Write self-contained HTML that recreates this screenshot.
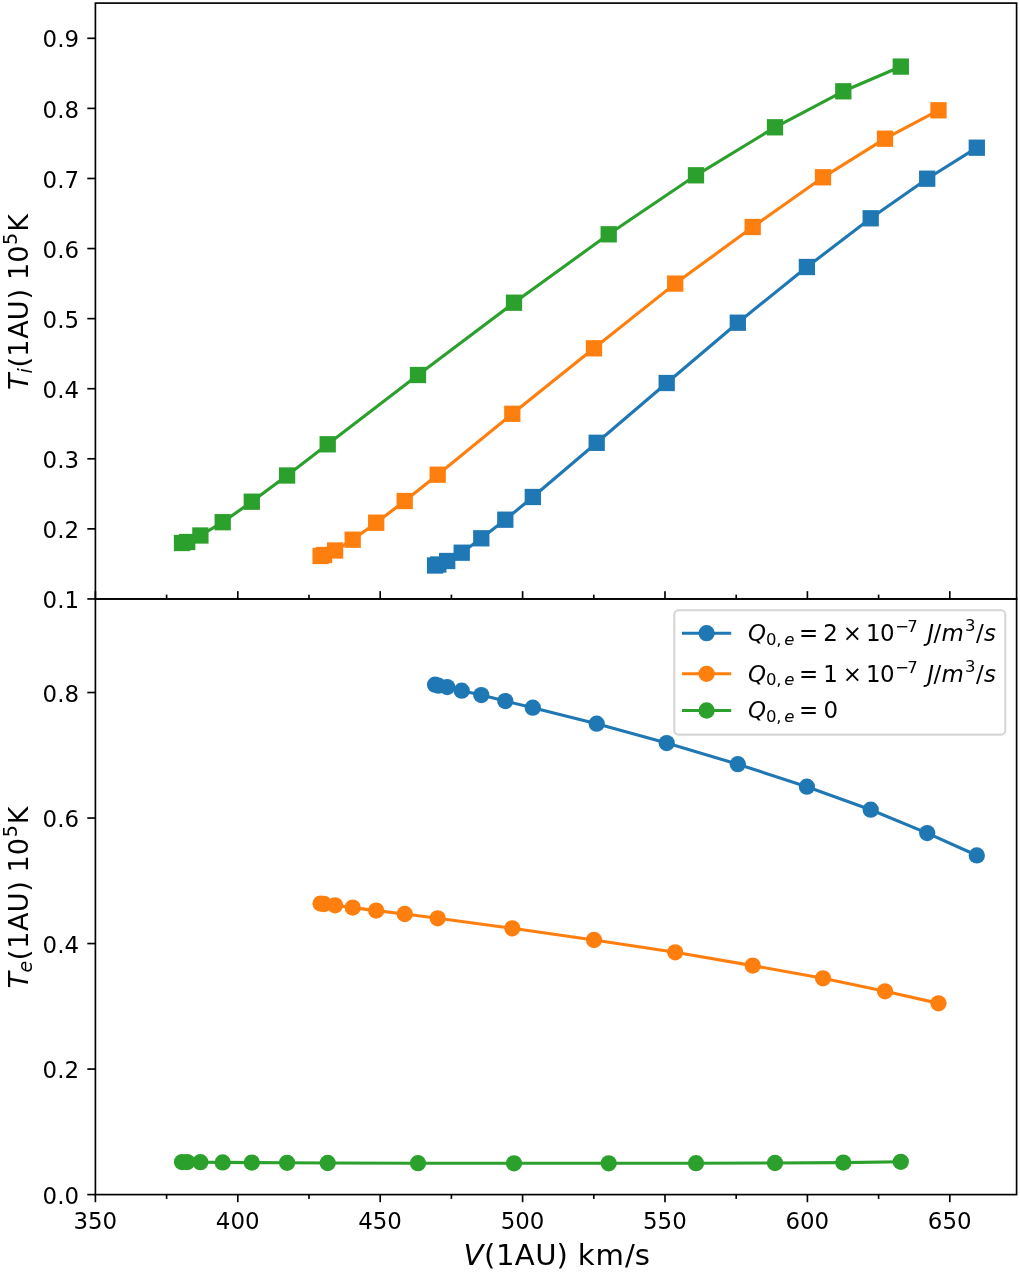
<!DOCTYPE html>
<html lang="en"><head><meta charset="utf-8"><title>T(1AU) vs V(1AU)</title>
<style>html,body{margin:0;padding:0;background:#fff}svg{display:block}text{font-family:"DejaVu Sans","Liberation Sans",sans-serif;fill:#000}.it{font-style:italic}</style></head><body>
<svg width="1020" height="1272" viewBox="0 0 1020 1272">
<rect width="1020" height="1272" fill="#fff"/>
<g id="top-panel">
<polyline points="435.1,565.5 438.3,564.5 447.2,561.0 461.7,552.7 481.3,538.3 505.3,519.7 532.8,497.0 596.7,442.8 666.7,383.0 737.8,322.7 806.9,267.0 870.7,218.3 927.2,178.7 976.8,147.7" fill="none" stroke="#1f77b4" stroke-width="3.125" stroke-linejoin="round" stroke-linecap="square"/>
<rect x="426.95" y="557.35" width="16.3" height="16.3" fill="#1f77b4"/>
<rect x="430.15" y="556.35" width="16.3" height="16.3" fill="#1f77b4"/>
<rect x="439.05" y="552.85" width="16.3" height="16.3" fill="#1f77b4"/>
<rect x="453.55" y="544.55" width="16.3" height="16.3" fill="#1f77b4"/>
<rect x="473.15" y="530.15" width="16.3" height="16.3" fill="#1f77b4"/>
<rect x="497.15" y="511.55" width="16.3" height="16.3" fill="#1f77b4"/>
<rect x="524.65" y="488.85" width="16.3" height="16.3" fill="#1f77b4"/>
<rect x="588.55" y="434.65" width="16.3" height="16.3" fill="#1f77b4"/>
<rect x="658.55" y="374.85" width="16.3" height="16.3" fill="#1f77b4"/>
<rect x="729.65" y="314.55" width="16.3" height="16.3" fill="#1f77b4"/>
<rect x="798.75" y="258.85" width="16.3" height="16.3" fill="#1f77b4"/>
<rect x="862.55" y="210.15" width="16.3" height="16.3" fill="#1f77b4"/>
<rect x="919.05" y="170.55" width="16.3" height="16.3" fill="#1f77b4"/>
<rect x="968.65" y="139.55" width="16.3" height="16.3" fill="#1f77b4"/>
<polyline points="320.6,556.0 324.0,555.0 335.1,550.5 352.7,539.7 376.2,522.7 404.7,501.0 437.7,474.7 512.3,413.8 594.0,348.3 675.2,283.6 752.7,227.0 823.0,177.3 885.0,138.7 938.5,110.3" fill="none" stroke="#ff7f0e" stroke-width="3.125" stroke-linejoin="round" stroke-linecap="square"/>
<rect x="312.45" y="547.85" width="16.3" height="16.3" fill="#ff7f0e"/>
<rect x="315.85" y="546.85" width="16.3" height="16.3" fill="#ff7f0e"/>
<rect x="326.95" y="542.35" width="16.3" height="16.3" fill="#ff7f0e"/>
<rect x="344.55" y="531.55" width="16.3" height="16.3" fill="#ff7f0e"/>
<rect x="368.05" y="514.55" width="16.3" height="16.3" fill="#ff7f0e"/>
<rect x="396.55" y="492.85" width="16.3" height="16.3" fill="#ff7f0e"/>
<rect x="429.55" y="466.55" width="16.3" height="16.3" fill="#ff7f0e"/>
<rect x="504.15" y="405.65" width="16.3" height="16.3" fill="#ff7f0e"/>
<rect x="585.85" y="340.15" width="16.3" height="16.3" fill="#ff7f0e"/>
<rect x="667.05" y="275.45" width="16.3" height="16.3" fill="#ff7f0e"/>
<rect x="744.55" y="218.85" width="16.3" height="16.3" fill="#ff7f0e"/>
<rect x="814.85" y="169.15" width="16.3" height="16.3" fill="#ff7f0e"/>
<rect x="876.85" y="130.55" width="16.3" height="16.3" fill="#ff7f0e"/>
<rect x="930.35" y="102.15" width="16.3" height="16.3" fill="#ff7f0e"/>
<polyline points="182.0,543.0 187.2,542.0 200.4,535.5 222.7,522.2 251.8,501.7 287.1,475.5 327.7,444.3 418.0,375.0 514.0,302.7 608.7,234.3 696.0,175.3 775.0,127.3 843.3,91.3 900.8,66.6" fill="none" stroke="#2ca02c" stroke-width="3.125" stroke-linejoin="round" stroke-linecap="square"/>
<rect x="173.85" y="534.85" width="16.3" height="16.3" fill="#2ca02c"/>
<rect x="179.05" y="533.85" width="16.3" height="16.3" fill="#2ca02c"/>
<rect x="192.25" y="527.35" width="16.3" height="16.3" fill="#2ca02c"/>
<rect x="214.55" y="514.05" width="16.3" height="16.3" fill="#2ca02c"/>
<rect x="243.65" y="493.55" width="16.3" height="16.3" fill="#2ca02c"/>
<rect x="278.95" y="467.35" width="16.3" height="16.3" fill="#2ca02c"/>
<rect x="319.55" y="436.15" width="16.3" height="16.3" fill="#2ca02c"/>
<rect x="409.85" y="366.85" width="16.3" height="16.3" fill="#2ca02c"/>
<rect x="505.85" y="294.55" width="16.3" height="16.3" fill="#2ca02c"/>
<rect x="600.55" y="226.15" width="16.3" height="16.3" fill="#2ca02c"/>
<rect x="687.85" y="167.15" width="16.3" height="16.3" fill="#2ca02c"/>
<rect x="766.85" y="119.15" width="16.3" height="16.3" fill="#2ca02c"/>
<rect x="835.15" y="83.15" width="16.3" height="16.3" fill="#2ca02c"/>
<rect x="892.65" y="58.45" width="16.3" height="16.3" fill="#2ca02c"/>
</g><g id="bottom-panel">
<polyline points="435.1,684.7 438.3,685.7 447.2,687.1 461.7,690.7 481.3,695.1 505.3,701.1 532.8,707.7 596.7,723.7 666.7,743.1 737.8,764.2 806.9,786.7 870.7,809.7 927.2,833.1 976.8,855.4" fill="none" stroke="#1f77b4" stroke-width="3.125" stroke-linejoin="round" stroke-linecap="square"/>
<circle cx="435.10" cy="684.70" r="8.15" fill="#1f77b4"/>
<circle cx="438.30" cy="685.70" r="8.15" fill="#1f77b4"/>
<circle cx="447.20" cy="687.10" r="8.15" fill="#1f77b4"/>
<circle cx="461.70" cy="690.70" r="8.15" fill="#1f77b4"/>
<circle cx="481.30" cy="695.10" r="8.15" fill="#1f77b4"/>
<circle cx="505.30" cy="701.10" r="8.15" fill="#1f77b4"/>
<circle cx="532.80" cy="707.70" r="8.15" fill="#1f77b4"/>
<circle cx="596.70" cy="723.70" r="8.15" fill="#1f77b4"/>
<circle cx="666.70" cy="743.10" r="8.15" fill="#1f77b4"/>
<circle cx="737.80" cy="764.20" r="8.15" fill="#1f77b4"/>
<circle cx="806.90" cy="786.70" r="8.15" fill="#1f77b4"/>
<circle cx="870.70" cy="809.70" r="8.15" fill="#1f77b4"/>
<circle cx="927.20" cy="833.10" r="8.15" fill="#1f77b4"/>
<circle cx="976.80" cy="855.40" r="8.15" fill="#1f77b4"/>
<polyline points="320.6,903.6 324.0,904.0 335.1,905.3 352.7,907.6 376.2,910.6 404.7,914.0 437.7,918.3 512.3,928.3 594.0,940.0 675.2,952.3 752.7,965.6 823.0,978.3 885.0,991.3 938.5,1003.3" fill="none" stroke="#ff7f0e" stroke-width="3.125" stroke-linejoin="round" stroke-linecap="square"/>
<circle cx="320.60" cy="903.60" r="8.15" fill="#ff7f0e"/>
<circle cx="324.00" cy="904.00" r="8.15" fill="#ff7f0e"/>
<circle cx="335.10" cy="905.30" r="8.15" fill="#ff7f0e"/>
<circle cx="352.70" cy="907.60" r="8.15" fill="#ff7f0e"/>
<circle cx="376.20" cy="910.60" r="8.15" fill="#ff7f0e"/>
<circle cx="404.70" cy="914.00" r="8.15" fill="#ff7f0e"/>
<circle cx="437.70" cy="918.30" r="8.15" fill="#ff7f0e"/>
<circle cx="512.30" cy="928.30" r="8.15" fill="#ff7f0e"/>
<circle cx="594.00" cy="940.00" r="8.15" fill="#ff7f0e"/>
<circle cx="675.20" cy="952.30" r="8.15" fill="#ff7f0e"/>
<circle cx="752.70" cy="965.60" r="8.15" fill="#ff7f0e"/>
<circle cx="823.00" cy="978.30" r="8.15" fill="#ff7f0e"/>
<circle cx="885.00" cy="991.30" r="8.15" fill="#ff7f0e"/>
<circle cx="938.50" cy="1003.30" r="8.15" fill="#ff7f0e"/>
<polyline points="182.0,1162.1 187.2,1162.1 200.4,1162.2 222.7,1162.4 251.8,1162.6 287.1,1162.8 327.7,1163.0 418.0,1163.2 514.0,1163.3 608.7,1163.3 696.0,1163.2 775.0,1163.0 843.3,1162.6 900.8,1161.8" fill="none" stroke="#2ca02c" stroke-width="3.125" stroke-linejoin="round" stroke-linecap="square"/>
<circle cx="182.00" cy="1162.10" r="8.15" fill="#2ca02c"/>
<circle cx="187.20" cy="1162.10" r="8.15" fill="#2ca02c"/>
<circle cx="200.40" cy="1162.20" r="8.15" fill="#2ca02c"/>
<circle cx="222.70" cy="1162.40" r="8.15" fill="#2ca02c"/>
<circle cx="251.80" cy="1162.60" r="8.15" fill="#2ca02c"/>
<circle cx="287.10" cy="1162.80" r="8.15" fill="#2ca02c"/>
<circle cx="327.70" cy="1163.00" r="8.15" fill="#2ca02c"/>
<circle cx="418.00" cy="1163.20" r="8.15" fill="#2ca02c"/>
<circle cx="514.00" cy="1163.30" r="8.15" fill="#2ca02c"/>
<circle cx="608.70" cy="1163.30" r="8.15" fill="#2ca02c"/>
<circle cx="696.00" cy="1163.20" r="8.15" fill="#2ca02c"/>
<circle cx="775.00" cy="1163.00" r="8.15" fill="#2ca02c"/>
<circle cx="843.30" cy="1162.60" r="8.15" fill="#2ca02c"/>
<circle cx="900.80" cy="1161.80" r="8.15" fill="#2ca02c"/>
</g>
<g stroke="#000" stroke-width="1.67" fill="none">
<line x1="95.40" y1="1194.6" x2="95.40" y2="1202.20"/>
<line x1="95.40" y1="598.95" x2="95.40" y2="591.15"/>
<line x1="237.80" y1="1194.6" x2="237.80" y2="1202.20"/>
<line x1="237.80" y1="598.95" x2="237.80" y2="591.15"/>
<line x1="380.20" y1="1194.6" x2="380.20" y2="1202.20"/>
<line x1="380.20" y1="598.95" x2="380.20" y2="591.15"/>
<line x1="522.60" y1="1194.6" x2="522.60" y2="1202.20"/>
<line x1="522.60" y1="598.95" x2="522.60" y2="591.15"/>
<line x1="665.00" y1="1194.6" x2="665.00" y2="1202.20"/>
<line x1="665.00" y1="598.95" x2="665.00" y2="591.15"/>
<line x1="807.40" y1="1194.6" x2="807.40" y2="1202.20"/>
<line x1="807.40" y1="598.95" x2="807.40" y2="591.15"/>
<line x1="949.80" y1="1194.6" x2="949.80" y2="1202.20"/>
<line x1="949.80" y1="598.95" x2="949.80" y2="591.15"/>
<line x1="166.60" y1="1194.6" x2="166.60" y2="1198.90"/>
<line x1="166.60" y1="598.95" x2="166.60" y2="594.65"/>
<line x1="309.00" y1="1194.6" x2="309.00" y2="1198.90"/>
<line x1="309.00" y1="598.95" x2="309.00" y2="594.65"/>
<line x1="451.40" y1="1194.6" x2="451.40" y2="1198.90"/>
<line x1="451.40" y1="598.95" x2="451.40" y2="594.65"/>
<line x1="593.80" y1="1194.6" x2="593.80" y2="1198.90"/>
<line x1="593.80" y1="598.95" x2="593.80" y2="594.65"/>
<line x1="736.20" y1="1194.6" x2="736.20" y2="1198.90"/>
<line x1="736.20" y1="598.95" x2="736.20" y2="594.65"/>
<line x1="878.60" y1="1194.6" x2="878.60" y2="1198.90"/>
<line x1="878.60" y1="598.95" x2="878.60" y2="594.65"/>
<line x1="95.4" y1="598.95" x2="87.30000000000001" y2="598.95"/>
<line x1="95.4" y1="528.87" x2="87.30000000000001" y2="528.87"/>
<line x1="95.4" y1="458.79" x2="87.30000000000001" y2="458.79"/>
<line x1="95.4" y1="388.71" x2="87.30000000000001" y2="388.71"/>
<line x1="95.4" y1="318.63" x2="87.30000000000001" y2="318.63"/>
<line x1="95.4" y1="248.55" x2="87.30000000000001" y2="248.55"/>
<line x1="95.4" y1="178.47" x2="87.30000000000001" y2="178.47"/>
<line x1="95.4" y1="108.39" x2="87.30000000000001" y2="108.39"/>
<line x1="95.4" y1="38.31" x2="87.30000000000001" y2="38.31"/>
<line x1="95.4" y1="1194.60" x2="87.30000000000001" y2="1194.60"/>
<line x1="95.4" y1="1069.08" x2="87.30000000000001" y2="1069.08"/>
<line x1="95.4" y1="943.56" x2="87.30000000000001" y2="943.56"/>
<line x1="95.4" y1="818.04" x2="87.30000000000001" y2="818.04"/>
<line x1="95.4" y1="692.52" x2="87.30000000000001" y2="692.52"/>
<rect x="95.4" y="3.1" width="921.20" height="595.85" stroke-linejoin="miter"/>
<rect x="95.4" y="598.95" width="921.20" height="595.65" stroke-linejoin="miter"/>
</g>
<g font-size="22.92">
<text x="95.30" y="1228.60" text-anchor="middle">350</text>
<text x="237.70" y="1228.60" text-anchor="middle">400</text>
<text x="380.10" y="1228.60" text-anchor="middle">450</text>
<text x="522.50" y="1228.60" text-anchor="middle">500</text>
<text x="664.90" y="1228.60" text-anchor="middle">550</text>
<text x="807.30" y="1228.60" text-anchor="middle">600</text>
<text x="949.70" y="1228.60" text-anchor="middle">650</text>
<text transform="translate(79.00,608.10) scale(1,1.025)" text-anchor="end">0.1</text>
<text transform="translate(79.00,538.02) scale(1,1.025)" text-anchor="end">0.2</text>
<text transform="translate(79.00,467.94) scale(1,1.025)" text-anchor="end">0.3</text>
<text transform="translate(79.00,397.86) scale(1,1.025)" text-anchor="end">0.4</text>
<text transform="translate(79.00,327.78) scale(1,1.025)" text-anchor="end">0.5</text>
<text transform="translate(79.00,257.70) scale(1,1.025)" text-anchor="end">0.6</text>
<text transform="translate(79.00,187.62) scale(1,1.025)" text-anchor="end">0.7</text>
<text transform="translate(79.00,117.54) scale(1,1.025)" text-anchor="end">0.8</text>
<text transform="translate(79.00,47.46) scale(1,1.025)" text-anchor="end">0.9</text>
<text transform="translate(79.00,1203.75) scale(1,1.025)" text-anchor="end">0.0</text>
<text transform="translate(79.00,1078.23) scale(1,1.025)" text-anchor="end">0.2</text>
<text transform="translate(79.00,952.71) scale(1,1.025)" text-anchor="end">0.4</text>
<text transform="translate(79.00,827.19) scale(1,1.025)" text-anchor="end">0.6</text>
<text transform="translate(79.00,701.67) scale(1,1.025)" text-anchor="end">0.8</text>
</g>
<text id="xlabel"><tspan class="it" font-size="29.17" x="463.62" y="1264.5">V</tspan><tspan font-size="29.17" x="483.89 495.90 514.77 535.36 556.56 568.00 577.85 595.55 625.00 634.72" y="1264.5">(1AU) km/s</tspan></text>
<text transform="translate(27.7,388.95) rotate(-90)"><tspan class="it" font-size="27.08" x="-1.16" y="0.0">T</tspan><tspan class="it" font-size="18.96" x="15.43" y="4.5">i</tspan><tspan font-size="27.08" x="21.57 32.32 50.09 68.75 89.33 100.50 109.02 126.31" y="0.0">(1AU) 10</tspan><tspan font-size="18.96" x="143.94" y="-10.6">5</tspan><tspan font-size="27.08" x="157.24" y="0.0">K</tspan></text>
<text transform="translate(27.7,987.4) rotate(-90)"><tspan class="it" font-size="27.08" x="-1.16" y="0.0">T</tspan><tspan class="it" font-size="18.96" x="14.83" y="4.5">e</tspan><tspan font-size="27.08" x="27.17 38.72 56.39 75.15 95.63 106.80 114.82 132.11" y="0.0">(1AU) 10</tspan><tspan font-size="18.96" x="150.14" y="-10.6">5</tspan><tspan font-size="27.08" x="163.14" y="0.0">K</tspan></text>
<g id="legend">
<rect x="674.3" y="610.2" width="331" height="124.4" rx="4.2" ry="4.2" fill="#fff" fill-opacity="0.8" stroke="#ccc" stroke-opacity="0.8" stroke-width="2.08"/>
<line x1="682" y1="633.2" x2="731.2" y2="633.2" stroke="#1f77b4" stroke-width="3.125"/>
<circle cx="706.6" cy="633.2" r="8.15" fill="#1f77b4"/>
<text><tspan class="it" font-size="22.92" x="747.96" y="641.2">Q</tspan><tspan font-size="16.5" x="766.01 776.13" y="644.8">0,</tspan><tspan class="it" font-size="16.5" x="784.24" y="644.8">e</tspan><tspan font-size="22.92" x="798.97 823.22 842.76 866.08 880.09" y="641.2">=2×10</tspan><tspan font-size="16.5" x="895.25 907.25" y="632.2">−7</tspan><tspan class="it" font-size="22.92" x="927.36" y="641.2">J</tspan><tspan font-size="22.92" x="933.60" y="641.2">/</tspan><tspan class="it" font-size="22.92" x="941.59" y="641.2">m</tspan><tspan font-size="16.5" x="965.04" y="631.4">3</tspan><tspan font-size="22.92" x="976.00" y="641.2">/</tspan><tspan class="it" font-size="22.92" x="983.94" y="641.2">s</tspan></text>
<line x1="682" y1="673.8" x2="731.2" y2="673.8" stroke="#ff7f0e" stroke-width="3.125"/>
<circle cx="706.6" cy="673.8" r="8.15" fill="#ff7f0e"/>
<text><tspan class="it" font-size="22.92" x="747.96" y="681.8">Q</tspan><tspan font-size="16.5" x="766.01 776.13" y="685.4">0,</tspan><tspan class="it" font-size="16.5" x="784.24" y="685.4">e</tspan><tspan font-size="22.92" x="798.97 823.28 842.76 866.08 880.09" y="681.8">=1×10</tspan><tspan font-size="16.5" x="895.25 907.25" y="672.8">−7</tspan><tspan class="it" font-size="22.92" x="927.36" y="681.8">J</tspan><tspan font-size="22.92" x="933.60" y="681.8">/</tspan><tspan class="it" font-size="22.92" x="941.59" y="681.8">m</tspan><tspan font-size="16.5" x="965.04" y="672.0">3</tspan><tspan font-size="22.92" x="976.00" y="681.8">/</tspan><tspan class="it" font-size="22.92" x="983.94" y="681.8">s</tspan></text>
<line x1="682" y1="710.5" x2="731.2" y2="710.5" stroke="#2ca02c" stroke-width="3.125"/>
<circle cx="706.6" cy="710.5" r="8.15" fill="#2ca02c"/>
<text><tspan class="it" font-size="22.92" x="747.96" y="717.9">Q</tspan><tspan font-size="16.5" x="766.01 776.13" y="721.5">0,</tspan><tspan class="it" font-size="16.5" x="784.24" y="721.5">e</tspan><tspan font-size="22.92" x="798.97 823.39" y="717.9">=0</tspan></text>
</g>
</svg></body></html>
